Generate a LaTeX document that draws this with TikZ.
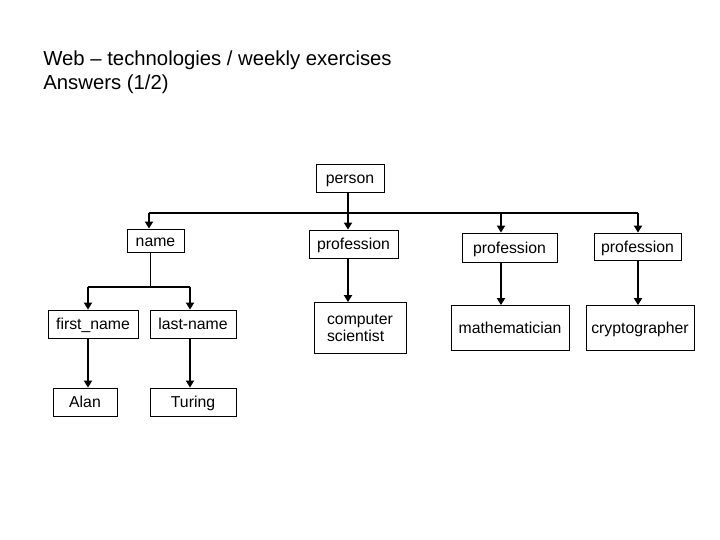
\documentclass[tikz,border=0pt]{standalone}
\usepackage{fontspec}
\setmainfont{Liberation Sans}
\usetikzlibrary{arrows.meta,positioning}

\begin{document}
\begin{tikzpicture}[
        x = 1pt, y = -1pt, % pixel grid, y downwards
        > = {Triangle[width=8pt,length=7pt]}, % arrow head style
        font = \fontsize{15.8}{17}\selectfont, % node text
        line width = 0.8pt
      ]

      \tikzstyle{box}=[rectangle,draw=black,inner sep=0pt,text height=11pt,text depth=0pt]
      \tikzstyle{tallbox}=[rectangle,draw=black,inner sep=0pt,align=left]
      \tikzstyle{arr}=[->,line width=2.5pt]
      \tikzstyle{bus}=[line width=1.4pt]

      \useasboundingbox (0,0) rectangle (720,540);

      \node[anchor=north west,align=left,inner sep=0pt,font=\fontsize{20.3}{24}\selectfont] (title) at (43,50)
        {Web -- technologies / weekly exercises\\Answers (1/2)};

      \node[box,minimum width=68pt,minimum height=28pt] (person) at (350,178) {person};
      \node[box,minimum width=57pt,minimum height=23pt] (name) at (155.5,240.5) {name};
      \node[box,minimum width=89pt,minimum height=28pt] (prof1) at (353.5,244) {profession};
      \node[box,minimum width=95pt,minimum height=29pt] (prof2) at (509.5,247.5) {profession};
      \node[box,minimum width=87pt,minimum height=27pt] (prof3) at (637.5,246.5) {profession};
      \node[tallbox,minimum width=92pt,minimum height=51pt] (cs) at (360,328) {computer\\scientist};
      \node[box,minimum width=118pt,minimum height=45pt] (math) at (510,328) {mathematician};
      \node[box,minimum width=108pt,minimum height=45pt] (crypto) at (640,328) {cryptographer};
      \node[box,minimum width=90pt,minimum height=28pt] (first) at (93,324) {first\_name};
      \node[box,minimum width=86pt,minimum height=28pt] (last) at (193,324) {last-name};
      \node[box,minimum width=64pt,minimum height=28pt] (alan) at (85,402) {Alan};
      \node[box,minimum width=86pt,minimum height=28pt] (turing) at (193,402) {Turing};

      % top level bus
      \coordinate (busL) at (149,213);
      \coordinate (busM) at (501,213);
      \coordinate (busR) at (638,213);
      \draw[bus] (busL) -- (busR);
      \draw[arr] (busL) -- (busL |- name.north);
      \draw[arr] (busM) -- (busM |- prof2.north);
      \draw[arr] (busR) -- (busR |- prof3.north);
      \draw[arr] (348,0 |- person.south) -- (348,0 |- prof1.north);

      % name split
      \coordinate (split) at (150,287);
      \coordinate (splitL) at (88,287);
      \coordinate (splitR) at (190,287);
      \draw (split |- name.south) -- (split);
      \draw[bus] (splitL) -- (splitR);
      \draw[arr] (splitL) -- (splitL |- first.north);
      \draw[arr] (splitR) -- (splitR |- last.north);
      \draw[arr] (splitL |- first.south) -- (splitL |- alan.north);
      \draw[arr] (splitR |- last.south) -- (splitR |- turing.north);

      % professions
      \draw[arr] (348,0 |- prof1.south) -- (348,0 |- cs.north);
      \draw[arr] (busM |- prof2.south) -- (busM |- math.north);
      \draw[arr] (busR |- prof3.south) -- (busR |- crypto.north);

    \end{tikzpicture}
\end{document}
